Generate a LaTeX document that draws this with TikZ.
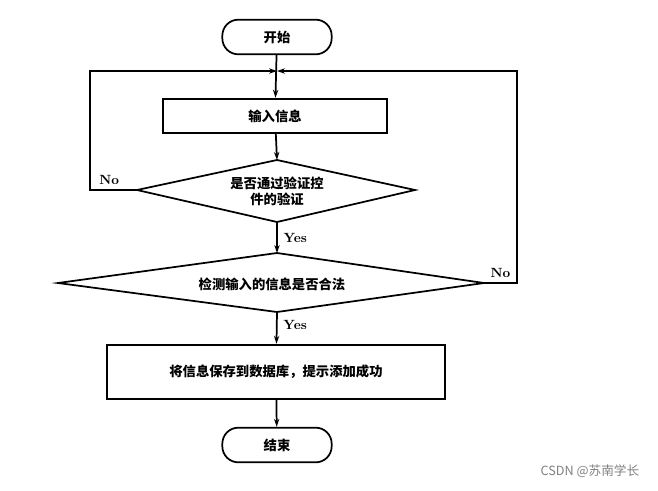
\documentclass[tikz,border=0pt]{standalone}
\usepackage{fontspec}
\newfontfamily\cjk{Noto Sans CJK SC}
\usetikzlibrary{arrows.meta}
\begin{document}
\begin{tikzpicture}[x=0.75pt,y=-0.75pt,
  line width=1.3pt, font=\cjk\bfseries\fontsize{10}{12}\selectfont,
  arr/.style={-{Stealth[length=6pt,width=4pt]}},
  lbl/.style={font=\bfseries\fontsize{10}{12}\selectfont}]
\useasboundingbox (0,0) rectangle (658,490);
\node[draw,rounded corners=12pt,minimum width=82pt,minimum height=26pt] (start) at (277,37) {开始};
\coordinate (j) at (277,71);
\node[draw,minimum width=168pt,minimum height=26pt] (in) at (275,116) {输入信息};
\coordinate (d1t) at (277,160); \coordinate (d1l) at (137,190);
\coordinate (d1r) at (415,190); \coordinate (d1b) at (277,222);
\draw (d1t) -- (d1r) -- (d1b) -- (d1l) -- cycle;
\node[align=center] (d1) at (277,191) {是否通过验证控\\件的验证};
\coordinate (d2t) at (277,253); \coordinate (d2l) at (58,283);
\coordinate (d2r) at (484,283); \coordinate (d2b) at (277,312);
\draw (d2t) -- (d2r) -- (d2b) -- (d2l) -- cycle;
\node (d2) at (272,284) {检测输入的信息是否合法};
\node[draw,minimum width=253pt,minimum height=41pt] (save) at (276,372) {将信息保存到数据库，提示添加成功};
\node[draw,rounded corners=12pt,minimum width=82pt,minimum height=26pt] (end) at (277,445) {结束};
\draw[arr] (start) -- (in);
\draw[arr] (in) -- (d1t);
\draw[arr] (d1b) -- (d2t) node[lbl,pos=0.5,right=1pt] {Yes};
\draw[arr] (d2b) -- (save) node[lbl,pos=0.4,right=1pt] {Yes};
\draw[arr] (save) -- (end);
\draw[arr] (d1l) -- (90,190) node[lbl,anchor=south west,xshift=3pt] {No} -- (90,71) -- (j);
\draw[arr] (d2r) -- (517,283) node[lbl,anchor=south east,xshift=-1pt] {No} -- (517,71) -- (j);
\node[font=\cjk\fontsize{9.5}{11}\selectfont,text=gray] (wm) at (590,471) {CSDN @苏南学长};
\end{tikzpicture}
\end{document}
